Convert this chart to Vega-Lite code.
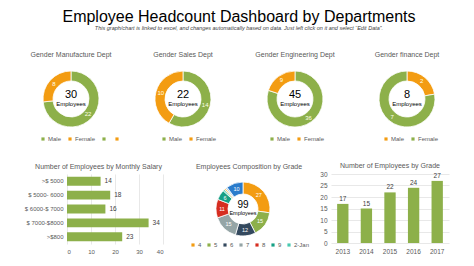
{
  "$schema": "https://vega.github.io/schema/vega-lite/v6.json",
  "background": "white",
  "padding": {"left": 18, "top": 8, "right": 0, "bottom": 0},
  "config": {
    "view": {"stroke": null},
    "font": "Liberation Sans",
    "title": {"fontSize": 7, "fontWeight": "normal", "color": "#595959", "offset": 4, "font": "Liberation Sans"},
    "axis": {"labelFont": "Liberation Sans", "labelColor": "#595959", "labelFontSize": 6.5, "ticks": false, "domain": false, "title": null},
    "legend": {"labelFont": "Liberation Sans", "labelFontSize": 6, "labelColor": "#595959", "symbolType": "square", "symbolSize": 10, "symbolStrokeWidth": 0, "columnPadding": 5, "title": null, "direction": "horizontal", "labelOffset": 2, "padding": 0}
  },
  "title": {
    "text": "Employee Headcount Dashboard by Departments",
    "subtitle": "This graph/chart is linked to excel, and changes automatically based on data. Just left click on it and select “Edit Data”.",
    "fontSize": 16, "font": "Liberation Sans", "fontWeight": "normal", "color": "#000000",
    "subtitleFont": "Liberation Sans", "subtitleFontSize": 5.5, "subtitleFontStyle": "italic", "subtitleColor": "#404040",
    "subtitlePadding": 1, "anchor": "middle", "offset": 20
  },
  "vconcat": [
    {
      "hconcat": [
        {
          "width": 106, "height": 74,
          "title": {"text": "Gender Manufacture Dept"},
          "data": {"values": [{"gender": "Male", "count": 22}, {"gender": "Female", "count": 8}]},
          "layer": [
            {"mark": {"type": "arc", "innerRadius": 18, "outerRadius": 28, "stroke": "white", "strokeWidth": 0.8},
             "encoding": {
               "theta": {"field": "count", "type": "quantitative", "stack": true},
               "order": {"field": "gender", "sort": "descending"},
               "color": {"field": "gender", "type": "nominal",
                 "scale": {"domain": ["Male", "Female", " ", "  "], "range": ["#8DB04A", "#F39C12", "#8DB04A", "#F39C12"]},
                 "legend": {"orient": "none", "legendX": 22, "legendY": 74}}}},
            {"mark": {"type": "text", "radius": 23, "fontSize": 6, "color": "#FFFFE8"},
             "encoding": {
               "theta": {"field": "count", "type": "quantitative", "stack": true},
               "order": {"field": "gender", "sort": "descending"},
               "text": {"field": "count", "type": "quantitative"}}},
            {"data": {"values": [{"total": 30}]},
             "mark": {"type": "text", "fontSize": 11, "color": "#000000", "radius": 0, "dy": -4},
             "encoding": {"theta": {"value": 0}, "text": {"field": "total", "type": "quantitative"}}},
            {"data": {"values": [{"label": "Employees"}]},
             "mark": {"type": "text", "fontSize": 6, "color": "#000000", "radius": 0, "dy": 5},
             "encoding": {"theta": {"value": 0}, "text": {"field": "label", "type": "nominal"}}}
          ]
        },
        {
          "width": 106, "height": 74,
          "title": {"text": "Gender Sales Dept"},
          "data": {"values": [{"gender": "Male", "count": 14}, {"gender": "Female", "count": 10}]},
          "layer": [
            {"mark": {"type": "arc", "innerRadius": 18, "outerRadius": 28, "stroke": "white", "strokeWidth": 0.8},
             "encoding": {
               "theta": {"field": "count", "type": "quantitative", "stack": true},
               "order": {"field": "gender", "sort": "descending"},
               "color": {"field": "gender", "type": "nominal",
                 "scale": {"domain": ["Male", "Female"], "range": ["#8DB04A", "#F39C12"]},
                 "legend": {"orient": "none", "legendX": 31, "legendY": 74}}}},
            {"mark": {"type": "text", "radius": 23, "fontSize": 6, "color": "#FFFFE8"},
             "encoding": {
               "theta": {"field": "count", "type": "quantitative", "stack": true},
               "order": {"field": "gender", "sort": "descending"},
               "text": {"field": "count", "type": "quantitative"}}},
            {"data": {"values": [{"total": 22}]},
             "mark": {"type": "text", "fontSize": 11, "color": "#000000", "radius": 0, "dy": -4},
             "encoding": {"theta": {"value": 0}, "text": {"field": "total", "type": "quantitative"}}},
            {"data": {"values": [{"label": "Employees"}]},
             "mark": {"type": "text", "fontSize": 6, "color": "#000000", "radius": 0, "dy": 5},
             "encoding": {"theta": {"value": 0}, "text": {"field": "label", "type": "nominal"}}}
          ]
        },
        {
          "width": 106, "height": 74,
          "title": {"text": "Gender Engineering Dept"},
          "data": {"values": [{"gender": "Male", "count": 36}, {"gender": "Female", "count": 9}]},
          "layer": [
            {"mark": {"type": "arc", "innerRadius": 18, "outerRadius": 28, "stroke": "white", "strokeWidth": 0.8},
             "encoding": {
               "theta": {"field": "count", "type": "quantitative", "stack": true},
               "order": {"field": "gender", "sort": "descending"},
               "color": {"field": "gender", "type": "nominal",
                 "scale": {"domain": ["Male", "Female"], "range": ["#8DB04A", "#F39C12"]},
                 "legend": {"orient": "none", "legendX": 27, "legendY": 74}}}},
            {"mark": {"type": "text", "radius": 23, "fontSize": 6, "color": "#FFFFE8"},
             "encoding": {
               "theta": {"field": "count", "type": "quantitative", "stack": true},
               "order": {"field": "gender", "sort": "descending"},
               "text": {"field": "count", "type": "quantitative"}}},
            {"data": {"values": [{"total": 45}]},
             "mark": {"type": "text", "fontSize": 11, "color": "#000000", "radius": 0, "dy": -4},
             "encoding": {"theta": {"value": 0}, "text": {"field": "total", "type": "quantitative"}}},
            {"data": {"values": [{"label": "Employees"}]},
             "mark": {"type": "text", "fontSize": 6, "color": "#000000", "radius": 0, "dy": 5},
             "encoding": {"theta": {"value": 0}, "text": {"field": "label", "type": "nominal"}}}
          ]
        },
        {
          "width": 106, "height": 74,
          "title": {"text": "Gender finance Dept"},
          "data": {"values": [{"gender": "Male", "count": 2}, {"gender": "Female", "count": 7}]},
          "layer": [
            {"mark": {"type": "arc", "innerRadius": 18, "outerRadius": 28, "stroke": "white", "strokeWidth": 0.8},
             "encoding": {
               "theta": {"field": "count", "type": "quantitative", "stack": true},
               "order": {"field": "gender", "sort": "descending"},
               "color": {"field": "gender", "type": "nominal",
                 "scale": {"domain": ["Male", "Female"], "range": ["#F39C12", "#8DB04A"]},
                 "legend": {"orient": "none", "legendX": 29, "legendY": 74}}}},
            {"mark": {"type": "text", "radius": 23, "fontSize": 6, "color": "#FFFFE8"},
             "encoding": {
               "theta": {"field": "count", "type": "quantitative", "stack": true},
               "order": {"field": "gender", "sort": "descending"},
               "text": {"field": "count", "type": "quantitative"}}},
            {"data": {"values": [{"total": 8}]},
             "mark": {"type": "text", "fontSize": 11, "color": "#000000", "radius": 0, "dy": -4},
             "encoding": {"theta": {"value": 0}, "text": {"field": "total", "type": "quantitative"}}},
            {"data": {"values": [{"label": "Employees"}]},
             "mark": {"type": "text", "fontSize": 6, "color": "#000000", "radius": 0, "dy": 5},
             "encoding": {"theta": {"value": 0}, "text": {"field": "label", "type": "nominal"}}}
          ]
        }
      ],
      "spacing": 6,
      "resolve": {"scale": {"color": "independent", "theta": "independent"}, "legend": {"color": "independent"}}
    },
    {
      "hconcat": [
        {
          "width": 145, "height": 70,
          "title": {"text": "Number of Employees by Monthly  Salary", "dx": 8},
          "data": {"values": [
            {"range": ">$ 5000", "count": 14},
            {"range": "$ 5000- 6000", "count": 18},
            {"range": "$ 6000-$ 7000", "count": 16},
            {"range": "$ 7000-$8000", "count": 34},
            {"range": ">$800", "count": 23}
          ]},
          "encoding": {
            "y": {"field": "range", "type": "nominal", "sort": null,
                  "scale": {"paddingInner": 0.36, "paddingOuter": 0.2},
                  "axis": {"labelPadding": 4, "offset": -49, "labelFontSize": 6}},
            "x": {"field": "count", "type": "quantitative", "scale": {"domain": [0, 40], "range": [49, 145]},
                  "axis": {"values": [0, 10, 20, 30, 40], "grid": true, "gridColor": "#D9D9D9", "gridWidth": 0.6, "labelFontSize": 6, "labelPadding": 4}}
          },
          "layer": [
            {"mark": {"type": "bar", "color": "#8DB04A"}},
            {"mark": {"type": "text", "align": "left", "dx": 4, "fontSize": 6.5, "color": "#404040"},
             "encoding": {"text": {"field": "count", "type": "quantitative"}}}
          ]
        },
        {
          "hconcat": [
            {
              "width": 126, "height": 70,
              "title": {"text": "Employees Composition by Grade", "dx": 6},
              "data": {"values": [
                {"grade": "4", "count": 27, "rank": 1},
                {"grade": "5", "count": 15, "rank": 2},
                {"grade": "6", "count": 12, "rank": 3},
                {"grade": "7", "count": 15, "rank": 4},
                {"grade": "8", "count": 11, "rank": 5},
                {"grade": "9", "count": 6, "rank": 6},
                {"grade": "2-Jan", "count": 1, "rank": 7},
                {"grade": "3-Jan", "count": 1, "rank": 8},
                {"grade": "11", "count": 1, "rank": 9},
                {"grade": "10", "count": 10, "rank": 10}
              ]},
              "layer": [
                {"mark": {"type": "arc", "innerRadius": 15, "outerRadius": 27, "stroke": "white", "strokeWidth": 0.8},
                 "encoding": {
                   "theta": {"field": "count", "type": "quantitative", "stack": true},
                   "order": {"field": "rank", "type": "quantitative"},
                   "color": {"field": "grade", "type": "nominal",
                     "scale": {"domain": ["4", "5", "6", "7", "8", "9", "2-Jan", "3-Jan", "11", "10"],
                               "range": ["#F39C12", "#8DB04A", "#34495E", "#95A5A6", "#D62D20", "#16A085", "#48C9B0", "#F8C471", "#A9CCE3", "#2A7BCB"]},
                     "legend": {"orient": "none", "legendX": 10, "legendY": 68, "values": ["4", "5", "6", "7", "8", "9", "2-Jan"], "columnPadding": 4}}}},
                {"mark": {"type": "text", "radius": 21, "fontSize": 5.5, "color": "#FFFFFF"},
                 "encoding": {
                   "theta": {"field": "count", "type": "quantitative", "stack": true},
                   "order": {"field": "rank", "type": "quantitative"},
                   "text": {"condition": {"test": "datum.count >= 5", "field": "count", "type": "quantitative"}, "value": ""}}},
                {"data": {"values": [{"total": 99}]},
                 "mark": {"type": "text", "fontSize": 10, "color": "#000000", "radius": 0, "dy": -4},
                 "encoding": {"theta": {"value": 0}, "text": {"field": "total", "type": "quantitative"}}},
                {"data": {"values": [{"label": "Employees"}]},
                 "mark": {"type": "text", "fontSize": 5.5, "color": "#000000", "radius": 0, "dy": 4},
                 "encoding": {"theta": {"value": 0}, "text": {"field": "label", "type": "nominal"}}}
              ]
            },
            {
              "width": 118, "height": 69,
              "title": {"text": "Number of Employees by Grade", "offset": 2},
              "data": {"values": [
                {"year": "2013", "count": 17},
                {"year": "2014", "count": 15},
                {"year": "2015", "count": 22},
                {"year": "2016", "count": 24},
                {"year": "2017", "count": 27}
              ]},
              "encoding": {
                "x": {"field": "year", "type": "ordinal", "scale": {"paddingInner": 0.52, "paddingOuter": 0.26},
                      "axis": {"labelAngle": 0, "labelPadding": 5, "labelFontSize": 6.5}},
                "y": {"field": "count", "type": "quantitative", "scale": {"domain": [0, 30]},
                      "axis": {"values": [0, 5, 10, 15, 20, 25, 30], "grid": true, "gridColor": "#D9D9D9", "gridWidth": 0.6, "labelPadding": 4, "labelFontSize": 6.5}}
              },
              "layer": [
                {"mark": {"type": "bar", "color": "#8DB04A"}},
                {"mark": {"type": "text", "baseline": "bottom", "dy": -2, "fontSize": 6.5, "color": "#404040"},
                 "encoding": {"text": {"field": "count", "type": "quantitative"}}}
              ]
            }
          ],
          "spacing": 9,
          "resolve": {"scale": {"color": "independent", "theta": "independent", "x": "independent", "y": "independent"}, "legend": {"color": "independent"}}
        }
      ],
      "spacing": 17,
      "resolve": {"scale": {"color": "independent", "theta": "independent", "x": "independent", "y": "independent"}, "legend": {"color": "independent"}}
    }
  ],
  "spacing": 20,
  "resolve": {"scale": {"color": "independent", "theta": "independent", "x": "independent", "y": "independent"}, "legend": {"color": "independent"}}
}
